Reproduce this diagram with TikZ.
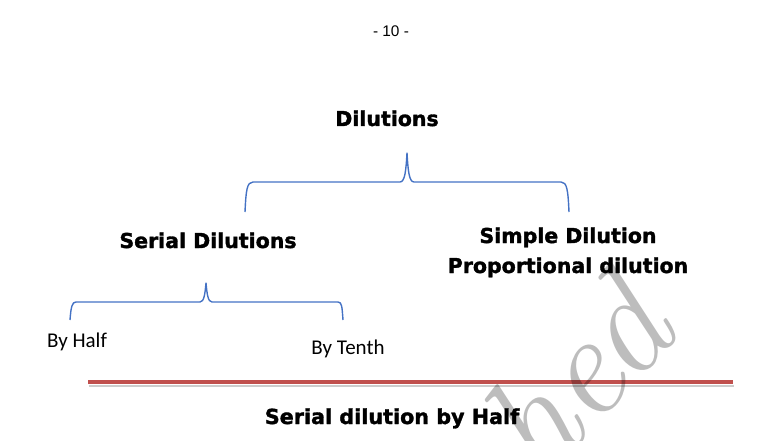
\documentclass[tikz,border=0pt]{standalone}
\usepackage{fontspec}
\newfontfamily\headfont{DejaVu Sans}[BoldFeatures={FakeBold=1.6}]
\newfontfamily\leaffont{Carlito}
\newfontfamily\pagefont{Liberation Sans}
\definecolor{braceblue}{RGB}{68,114,196}
\definecolor{rulered}{RGB}{192,80,77}

\begin{document}
\begin{tikzpicture}[x=1pt,y=-1pt,
	head/.style={font=\headfont\bfseries\fontsize{20.5}{24}\selectfont,anchor=base,inner sep=0pt},
	leaf/.style={font=\leaffont\fontsize{21}{25}\selectfont,anchor=base,inner sep=0pt},
	bracket/.style={draw=braceblue,line width=1.4pt,line join=round}]
	% Seite: 784 x 441, y nach unten
	\useasboundingbox (0,0) rectangle (784,441);
	\node[font=\pagefont\fontsize{15.4}{18}\selectfont,anchor=base,inner sep=0pt] (pageno) at (391,37) {- 10 -};

	\node[head] (dil) at (387,126) {Dilutions};
	\node[head] (serial) at (208,248) {Serial Dilutions};
	\node[head] (simple) at (568,243) {Simple Dilution};
	\node[head] (prop) at (568,273) {Proportional dilution};
	\node[leaf] (half) at (77,347) {By Half};
	\node[leaf] (tenth) at (348,354) {By Tenth};

	% Klammern
	\coordinate (tipA) at (407,153);
	\coordinate (legAl) at (245,212);
	\coordinate (legAr) at (569,212);
	\draw[bracket] (legAl) .. controls (246,190) and (247,182) .. (253,182) -- (400,182)
		.. controls (405,182) and (406,170) .. (tipA) .. controls (408,170) and (409,182) .. (414,182)
		-- (561,182) .. controls (567,182) and (568,190) .. (legAr);
	\coordinate (tipB) at (206,283);
	\coordinate (legBl) at (70,320);
	\coordinate (legBr) at (343,320);
	\draw[bracket] (legBl) .. controls (71,307) and (72,302) .. (76,302) -- (200,302)
		.. controls (204,302) and (205,294) .. (tipB) .. controls (207,294) and (208,302) .. (212,302)
		-- (338,302) .. controls (342,302) and (342,307) .. (legBr);

	% rote Linie
	\coordinate (ruleL) at (88,382);
	\coordinate (ruleR) at (733,382);
	\draw[black!20,line width=2pt] ([shift={(1,3.5)}]ruleL) -- ([shift={(1,3.5)}]ruleR);
	\draw[rulered,line width=4.5pt] (ruleL) -- (ruleR);
	\node[head,font=\headfont\bfseries\fontsize{20.7}{24}\selectfont] (byhalf) at (392,424) {Serial dilution by Half};

	% Wasserzeichen
	\begin{scope}
		\clip (0,0) rectangle (784,441);
		\node[text=black,opacity=.26,font=\itshape\fontsize{145}{145}\selectfont,rotate=47,anchor=base east] (mark) at (682,333) {shed};
	\end{scope}
\end{tikzpicture}
\end{document}
